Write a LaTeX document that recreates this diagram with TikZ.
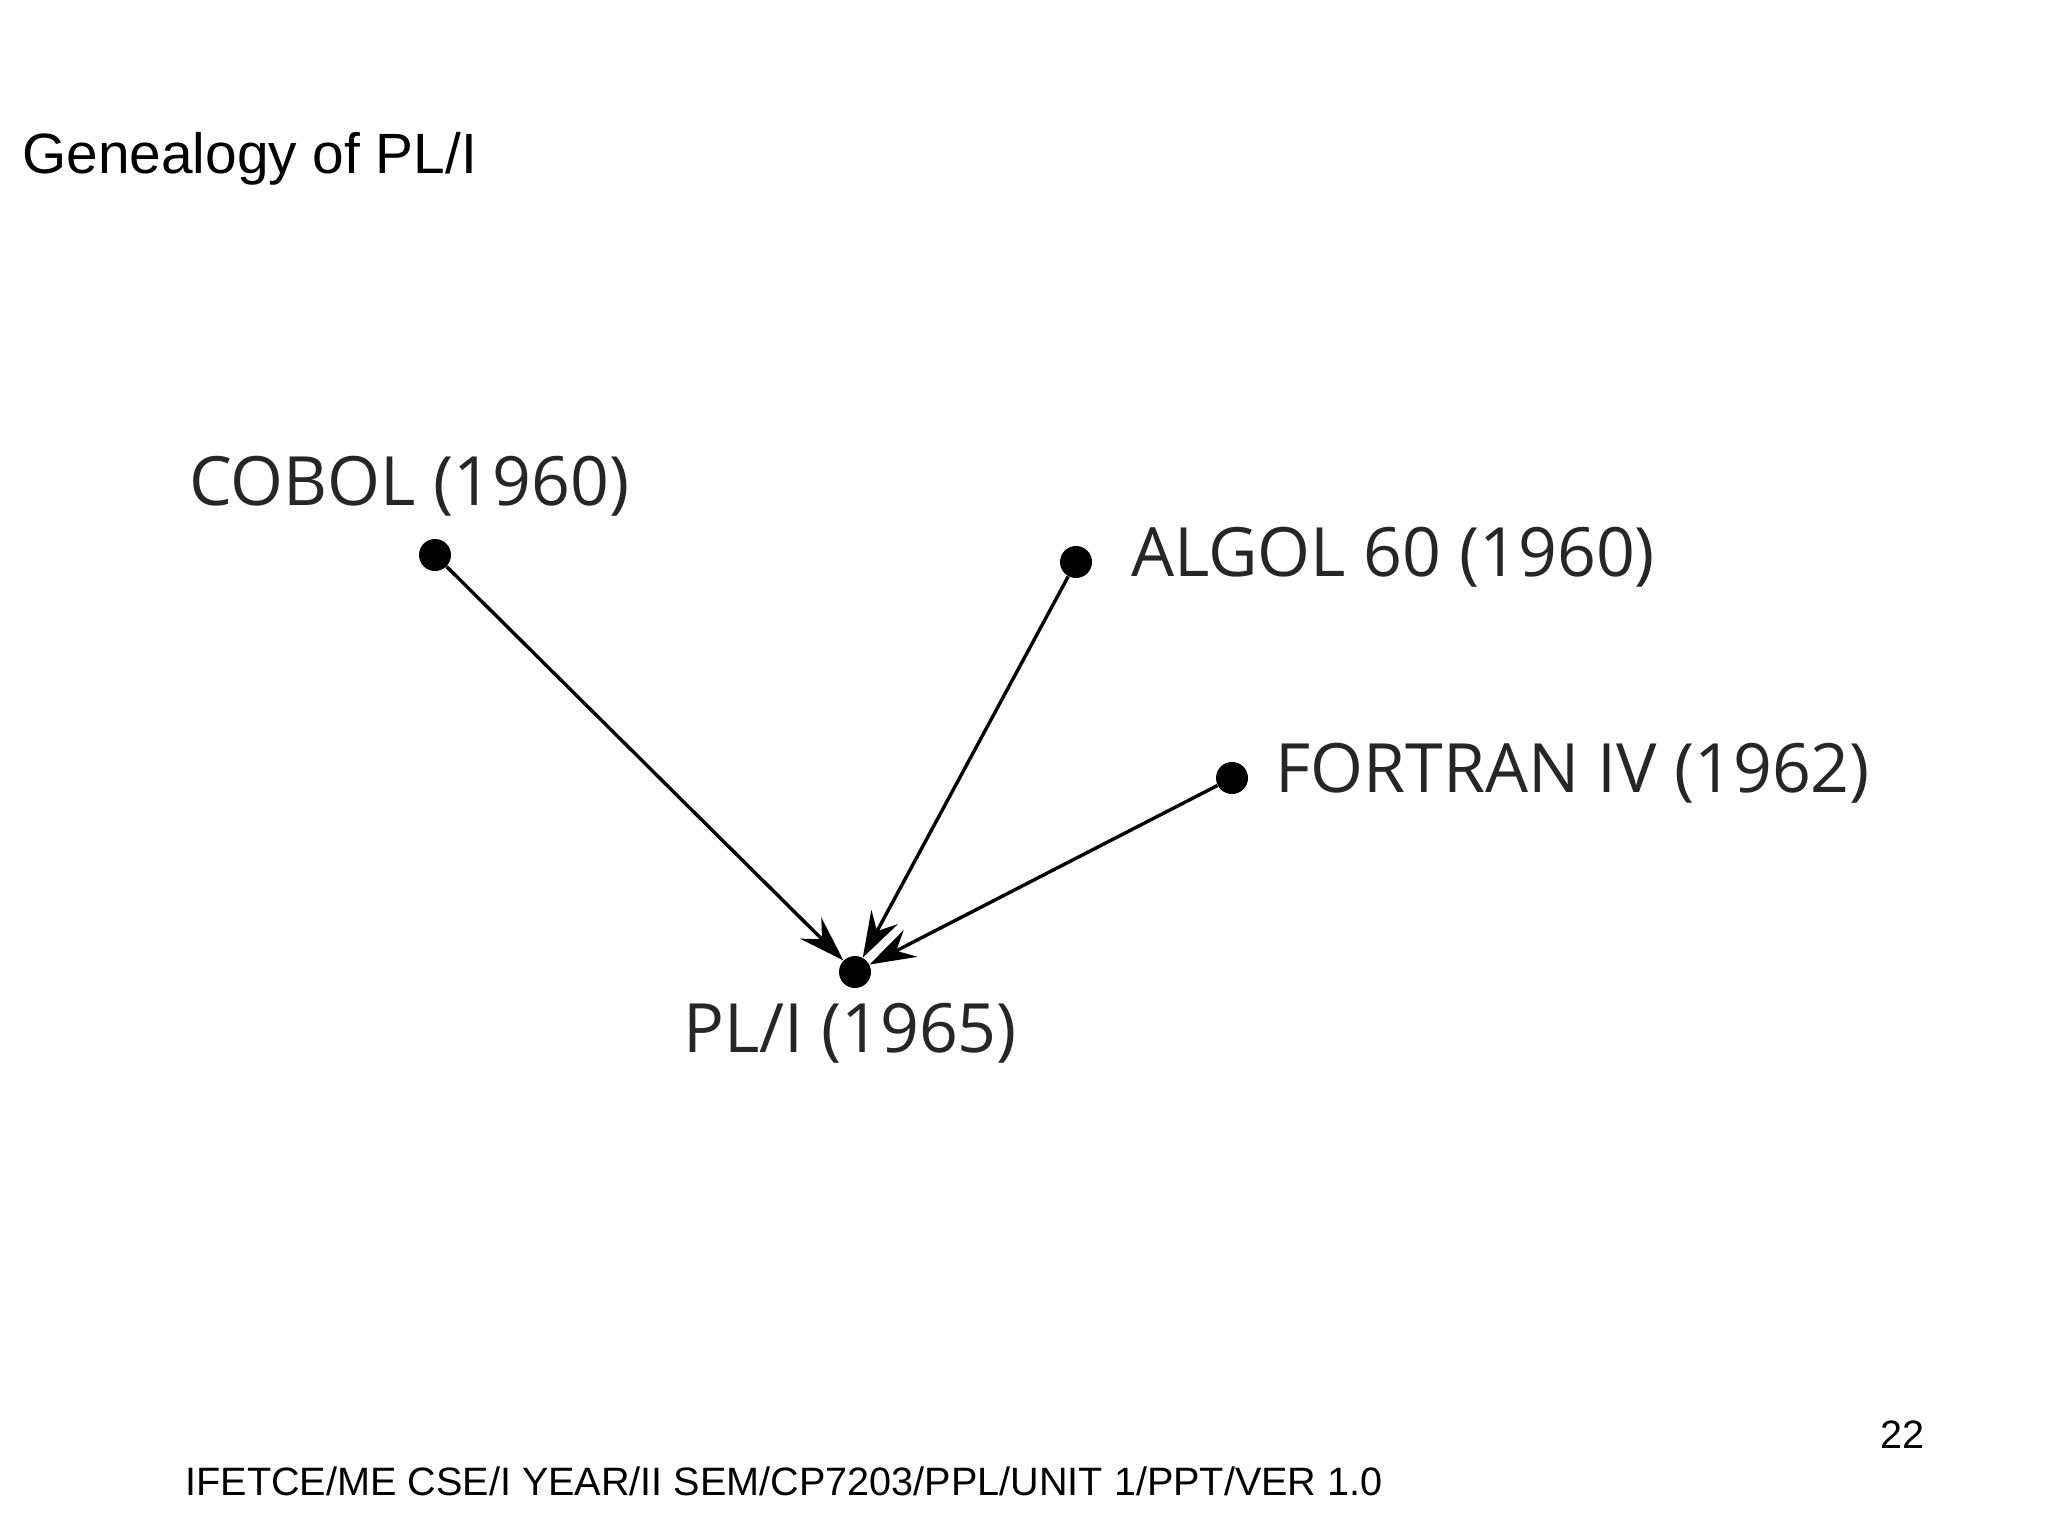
\documentclass[tikz,border=0pt]{standalone}
\usepackage{fontspec}
\setmainfont{Liberation Sans}
\newfontfamily\lblfont{Open Sans}
\usetikzlibrary{arrows.meta}
\begin{document}
\begin{tikzpicture}[x=0.5pt,y=-0.5pt,
  dot/.style={circle,fill=black,inner sep=0pt,minimum size=16pt},
  lbl/.style={inner sep=0pt,anchor=base west,font=\lblfont\fontsize{34}{40}\selectfont,text=black!85},
  conn/.style={line width=1.7pt,-{Stealth[length=23pt,width=15pt,inset=8pt]}},
  plain/.style={inner sep=0pt,anchor=base west}]
\useasboundingbox[fill=white] (0,0) rectangle (2048,1536);
\node[plain,font=\fontsize{28.4}{34}\selectfont] (title) at (22,173) {Genealogy of PL/I};
\node[dot] (cobol) at (435,555) {};
\node[dot] (algol) at (1076,562) {};
\node[dot] (fortran) at (1232,778) {};
\node[dot] (pli) at (855,972) {};
\node[lbl] (lcobol) at (189,505) {COBOL (1960)};
\node[lbl] (lalgol) at (1131,576) {ALGOL 60 (1960)};
\node[lbl] (lfortran) at (1275,792) {FORTRAN IV (1962)};
\node[lbl] (lpli) at (683,1052) {PL/I (1965)};
\draw[conn] (cobol) -- (pli);
\draw[conn] (algol) -- (pli);
\draw[conn] (fortran) -- (pli);
\node[plain,font=\fontsize{19.8}{23}\selectfont] (num) at (1880,1448) {22};
\node[plain,font=\fontsize{19.8}{23}\selectfont] (footer) at (185,1495) {IFETCE/ME CSE/I YEAR/II SEM/CP7203/PPL/UNIT 1/PPT/VER 1.0};
\end{tikzpicture}
\end{document}
